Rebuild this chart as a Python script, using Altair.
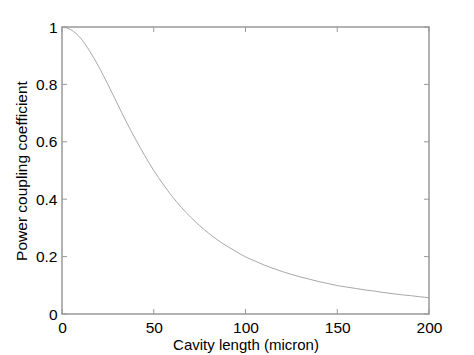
import altair as alt
import pandas as pd

# Curve
cavity_length = [0, 5, 10, 15, 20, 25, 30, 35, 40, 45, 50, 55, 60, 65, 70, 75, 80, 85, 90, 95,
                 100, 105, 110, 115, 120, 125, 130, 135, 140, 145, 150, 155, 160, 165, 170,
                 175, 180, 185, 190, 195, 200]
coupling = [1.0, 0.99, 0.962, 0.917, 0.862, 0.80, 0.735, 0.67, 0.61, 0.553, 0.50, 0.453, 0.41,
            0.372, 0.338, 0.308, 0.281, 0.257, 0.236, 0.217, 0.199, 0.185, 0.171, 0.159, 0.148,
            0.138, 0.129, 0.121, 0.113, 0.106, 0.099, 0.094, 0.089, 0.084, 0.080, 0.075, 0.071,
            0.067, 0.064, 0.060, 0.057]

x_ticks = [0, 50, 100, 150, 200]
y_ticks = [0, 0.2, 0.4, 0.6, 0.8, 1.0]

W, H = 367, 287
FONT = "Liberation Sans"
FRAME = "#999999"
TICK_LEN = 5

curve_df = pd.DataFrame({"L": cavity_length, "P": coupling})
xt = pd.DataFrame({"L": x_ticks})
yt = pd.DataFrame({"P": y_ticks})

xscale = alt.Scale(domain=[0, 200], nice=False, zero=False)
yscale = alt.Scale(domain=[0, 1], nice=False, zero=False)

curve = alt.Chart(curve_df).mark_line(color="#a8a8a8", strokeWidth=1, interpolate="monotone").encode(
    x=alt.X("L:Q", scale=xscale,
            axis=alt.Axis(title="Cavity length (micron)", values=x_ticks, ticks=False, domain=False,
                          grid=False, labelFlush=False, labelPadding=6, titlePadding=2,
                          labelFontSize=15.5, titleFontSize=15, labelFont=FONT, titleFont=FONT,
                          labelColor="#000", titleColor="#000", titleFontWeight="normal")),
    y=alt.Y("P:Q", scale=yscale,
            axis=alt.Axis(title="Power coupling coefficient", values=y_ticks, ticks=False, domain=False,
                          grid=False, labelPadding=5, titlePadding=6, format="~g",
                          labelFontSize=15.5, titleFontSize=15.5, labelFont=FONT, titleFont=FONT,
                          labelColor="#000", titleColor="#000", titleFontWeight="normal")),
)

bottom_ticks = alt.Chart(xt).mark_rule(color=FRAME, strokeWidth=1).encode(
    x=alt.X("L:Q", scale=xscale), y=alt.value(H), y2=alt.value(H - TICK_LEN))
top_ticks = alt.Chart(xt).mark_rule(color=FRAME, strokeWidth=1).encode(
    x=alt.X("L:Q", scale=xscale), y=alt.value(0), y2=alt.value(TICK_LEN))
left_ticks = alt.Chart(yt).mark_rule(color=FRAME, strokeWidth=1).encode(
    y=alt.Y("P:Q", scale=yscale), x=alt.value(0), x2=alt.value(TICK_LEN))
right_ticks = alt.Chart(yt).mark_rule(color=FRAME, strokeWidth=1).encode(
    y=alt.Y("P:Q", scale=yscale), x=alt.value(W - TICK_LEN), x2=alt.value(W))

chart = alt.layer(curve, bottom_ticks, top_ticks, left_ticks, right_ticks).properties(
    width=W, height=H,
    autosize=alt.AutoSizeParams(type="none"),
    padding={"left": 62, "top": 27, "right": 45, "bottom": 41},
    background="white",
).configure_view(stroke=FRAME, strokeWidth=1.5)

chart.save("out.html", embed_options={"renderer": "svg", "actions": False})
